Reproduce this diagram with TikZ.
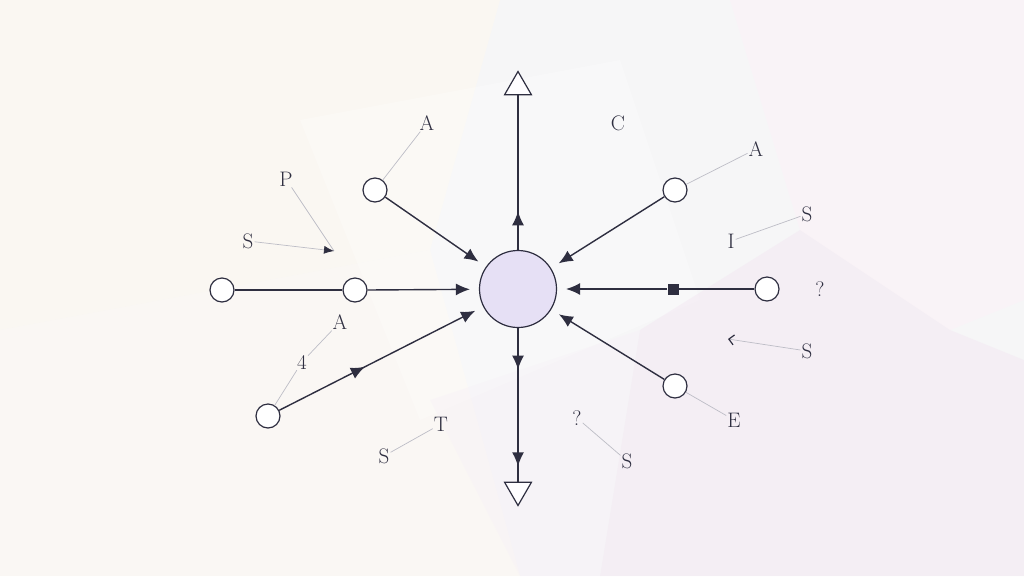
\documentclass[tikz,border=0pt]{standalone}
\usetikzlibrary{arrows.meta,decorations.markings,shapes.geometric}
\definecolor{inkc}{HTML}{2E2E40}
\definecolor{hubc}{HTML}{E6E0F5}
\definecolor{leadc}{HTML}{BDBDC6}
\definecolor{bgc}{HTML}{F6F6F7}
\begin{document}
\begin{tikzpicture}[x=1pt,y=-1pt,
  ink/.style={draw=inkc, line width=1.4pt},
  leader/.style={draw=leadc, line width=0.7pt},
  smallc/.style={circle, draw=inkc, fill=white, line width=1.2pt, minimum size=24pt, inner sep=0pt},
  hub/.style={circle, draw=inkc, fill=hubc, line width=1.2pt, minimum size=77pt, inner sep=0pt},
  tri/.style={regular polygon, regular polygon sides=3, draw=inkc, fill=white!95!hubc, line width=1.2pt, minimum size=31pt, inner sep=0pt},
  sqr/.style={rectangle, fill=inkc, minimum size=11pt, inner sep=0pt},
  lbl/.style={font=\fontsize{21}{25}\selectfont, text=inkc, inner sep=1pt},
  tip/.style={-{Latex[length=14pt,width=12pt]}, shorten >=9pt},
  midarrow/.style={postaction={decorate}, decoration={markings, mark=at position #1 with {\arrow{Latex[length=14pt,width=12pt]}}}}
]
% background
\useasboundingbox (0,0) rectangle (1024,576);
\fill[bgc] (0,0) rectangle (1024,576);
\fill[fill=yellow!30!orange!6!white, opacity=0.45] (0,0) -- (500,0) -- (430,250) -- (0,330) -- cycle;
\fill[fill=orange!5!white, opacity=0.5] (0,330) -- (430,250) -- (520,576) -- (0,576) -- cycle;
\fill[fill=white, opacity=0.25] (300,120) -- (620,60) -- (700,300) -- (420,420) -- cycle;
\fill[fill=violet!10!white, opacity=0.45] (640,330) -- (800,230) -- (950,330) -- (1024,360) -- (1024,576) -- (600,576) -- cycle;
\fill[fill=magenta!6!white, opacity=0.45] (730,0) -- (1024,0) -- (1024,300) -- (950,330) -- (800,230) -- cycle;
\fill[fill=violet!6!white, opacity=0.35] (430,400) -- (640,330) -- (600,576) -- (520,576) -- cycle;

% nodes
\node[hub] (hub) at (518,289) {};
\node[tri, shape border rotate=0] (ttop) at (518,87) {};
\node[tri, shape border rotate=180] (tbot) at (518,490) {};
\node[smallc] (nw) at (375,190) {};
\node[smallc] (ne) at (675,190) {};
\node[smallc] (w1) at (222,290) {};
\node[smallc] (w2) at (355,290) {};
\node[smallc] (e1) at (767,289) {};
\node[sqr] (sq) at (673,289) {};
\node[smallc] (sw) at (268,416) {};
\node[smallc] (se) at (675,386) {};

% connectors
\draw[ink, midarrow=0.25] (hub) -- (ttop);
\draw[ink, postaction={decorate}, decoration={markings,
   mark=at position 0.27 with {\arrow{Latex[length=14pt,width=12pt]}},
   mark=at position 0.9 with {\arrow{Latex[length=14pt,width=12pt]}}}] (hub) -- (tbot);
\draw[ink, tip] (nw) -- (hub);
\draw[ink, tip] (ne) -- (hub);
\draw[ink] (w1) -- (w2);
\draw[ink, tip] (w2.east) -- (hub);
\draw[ink] (e1) -- (sq);
\draw[ink, tip] (sq) -- (hub);
\draw[ink, tip, midarrow=0.42] (sw) -- (hub);
\draw[ink, tip] (se) -- (hub);

% labels
\node[lbl] (la1) at (427,123) {A};
\node[lbl] (lp1) at (286,179) {P};
\node[lbl] (ls1) at (248,241) {S};
\node[lbl] (lc) at (618,123) {C};
\node[lbl] (la2) at (756,149) {A};
\node[lbl] (li) at (731,241) {I};
\node[lbl] (ls2) at (807,214) {S};
\node[lbl] (lq1) at (820,289) {?};
\node[lbl] (ls3) at (807,351) {S};
\node[lbl] (le) at (734,420) {E};
\node[lbl] (lq2) at (577,418) {?};
\node[lbl] (ls4) at (627,461) {S};
\node[lbl] (la3) at (340,322) {A};
\node[lbl] (l4) at (302,362) {4};
\node[lbl] (lt) at (441,424) {T};
\node[lbl] (ls5) at (384,456) {S};
\coordinate (pt1) at (334,251);
\coordinate (pt2) at (728,339);

% leader lines
\draw[leader] (nw) -- (la1);
\draw[leader] (ne) -- (la2);
\draw[leader] (li) -- (ls2);
\draw[leader] (se) -- (le);
\draw[leader] (lq2) -- (ls4);
\draw[leader] (lt) -- (ls5);
\draw[leader] (sw) -- (l4);
\draw[leader] (l4) -- (la3);
\draw[leader] (lp1) -- (pt1);
\draw[leader, -{Latex[length=10pt,width=8pt,color=inkc]}] (ls1) -- (pt1);
\draw[leader, -{Straight Barb[length=5pt,width=10pt,color=inkc,line width=1.2pt]}] (ls3) -- (pt2);
\end{tikzpicture}
\end{document}
